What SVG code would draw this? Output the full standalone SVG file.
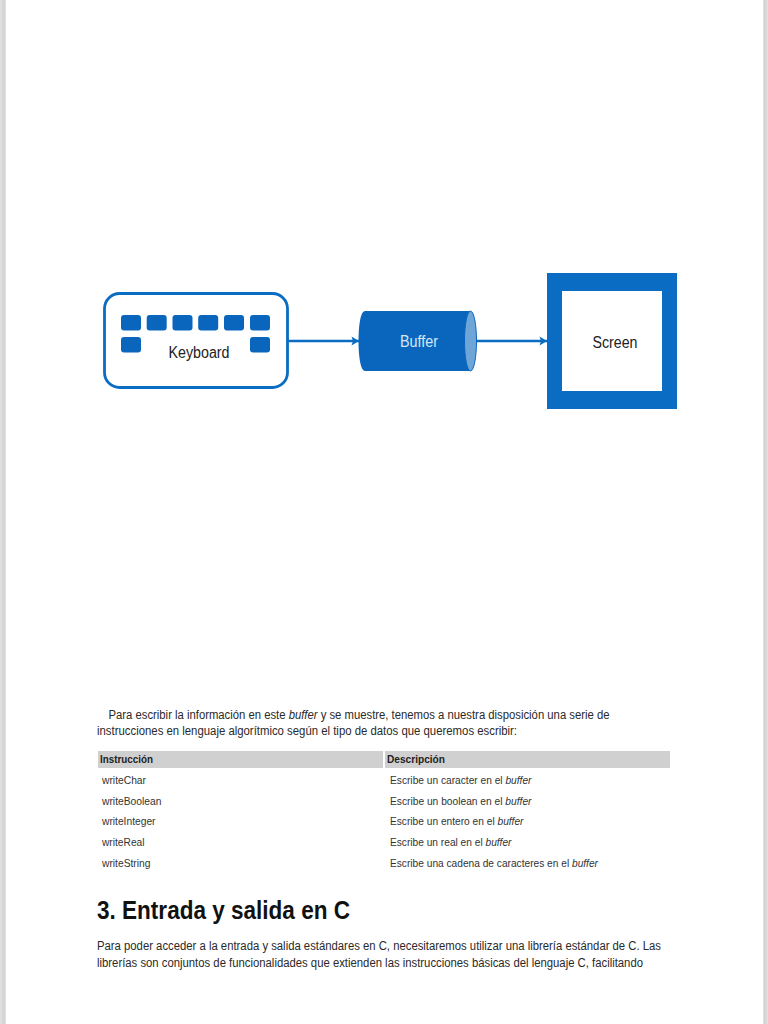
<svg xmlns="http://www.w3.org/2000/svg" width="768" height="1024" viewBox="0 0 768 1024">
<defs>
<marker id="arrow" markerUnits="userSpaceOnUse" markerWidth="12" markerHeight="12" refX="10" refY="6" orient="auto"><path d="M2.500 1.500 L10 6 L2.500 10.500 L4 6 Z" fill="#0a6cc2"/></marker>
<linearGradient id="edgeL" x1="0" x2="1" y1="0" y2="0"><stop offset="0" stop-color="#e2e2e2"/><stop offset="0.7" stop-color="#d2d2d2"/><stop offset="1" stop-color="#e6e6e6"/></linearGradient>
<linearGradient id="edgeR" x1="1" x2="0" y1="0" y2="0"><stop offset="0" stop-color="#e2e2e2"/><stop offset="0.7" stop-color="#d2d2d2"/><stop offset="1" stop-color="#e6e6e6"/></linearGradient>
</defs>
<style>
text{font-family:"Liberation Sans",Arial,sans-serif;fill:#222}
.body{font-size:12px;fill:#2a2a2a}
.cell{font-size:11px;fill:#333}
.hd{font-size:11.5px;font-weight:bold;fill:#222}
.lab{font-size:16px}
.key{fill:#0a66bd}
.conn{stroke:#0a6cc2;stroke-width:2.600;fill:none;marker-end:url(#arrow)}
</style>
<rect width="768" height="1024" fill="#fff"/>
<rect x="0" y="0" width="6" height="1024" fill="url(#edgeL)"/>
<rect x="763" y="0" width="5" height="1024" fill="url(#edgeR)"/>
<g id="connectors">
<path class="conn" d="M288 341 H359"/>
<path class="conn" d="M476 341 H547"/>
</g>
<g id="keyboard">
<rect x="104.500" y="293.500" width="183" height="94" rx="15" fill="#fff" stroke="#0a6cc2" stroke-width="2.800"/>
<rect class="key" x="121" y="315" width="20" height="15.500" rx="3"/>
<rect class="key" x="146.700" y="315" width="20" height="15.500" rx="3"/>
<rect class="key" x="172.500" y="315" width="20" height="15.500" rx="3"/>
<rect class="key" x="198.200" y="315" width="20" height="15.500" rx="3"/>
<rect class="key" x="224" y="315" width="20" height="15.500" rx="3"/>
<rect class="key" x="250" y="315" width="20" height="15.500" rx="3"/>
<rect class="key" x="121" y="337" width="20" height="15.500" rx="3"/>
<rect class="key" x="250" y="337" width="20" height="15.500" rx="3"/>
<text class="lab" x="168.500" y="358" textLength="61" lengthAdjust="spacingAndGlyphs">Keyboard</text>
</g>
<g id="buffer">
<path d="M365 311 H470 V371 H365 C360.500 371 358.500 356 358.500 341 C358.500 326 360.500 311 365 311 Z" fill="#0a66bd"/>
<ellipse cx="470.500" cy="341" rx="6" ry="30" fill="#6ea6d8" stroke="#0a66bd" stroke-width="1"/>
<text class="lab" x="400" y="347" textLength="38" lengthAdjust="spacingAndGlyphs" style="fill:#d6e6f5">Buffer</text>
</g>
<g id="screen">
<rect x="547" y="273" width="130" height="136" fill="#0a6cc2"/>
<rect x="562" y="291" width="100" height="100" fill="#fff"/>
<text class="lab" x="592.500" y="348" textLength="45" lengthAdjust="spacingAndGlyphs">Screen</text>
</g>
<g id="intro">
<text class="body" x="108.500" y="719" textLength="501" lengthAdjust="spacingAndGlyphs">Para escribir la información en este <tspan font-style="italic">buffer</tspan> y se muestre, tenemos a nuestra disposición una serie de</text>
<text class="body" x="97" y="735" textLength="420" lengthAdjust="spacingAndGlyphs">instrucciones en lenguaje algorítmico según el tipo de datos que queremos escribir:</text>
</g>
<g id="table">
<rect x="98" y="751" width="285" height="17" fill="#d0d0d0"/>
<rect x="385" y="751" width="285" height="17" fill="#d0d0d0"/>
<text class="hd" x="100" y="763" textLength="53" lengthAdjust="spacingAndGlyphs">Instrucción</text>
<text class="hd" x="387" y="763" textLength="58" lengthAdjust="spacingAndGlyphs">Descripción</text>
<text class="cell" x="102" y="784" textLength="44" lengthAdjust="spacingAndGlyphs">writeChar</text>
<text class="cell" x="102" y="805" textLength="59.500" lengthAdjust="spacingAndGlyphs">writeBoolean</text>
<text class="cell" x="102" y="825" textLength="53.500" lengthAdjust="spacingAndGlyphs">writeInteger</text>
<text class="cell" x="102" y="846" textLength="42.500" lengthAdjust="spacingAndGlyphs">writeReal</text>
<text class="cell" x="102" y="867" textLength="48.500" lengthAdjust="spacingAndGlyphs">writeString</text>
<text class="cell" x="390" y="784" textLength="141.500" lengthAdjust="spacingAndGlyphs">Escribe un caracter en el <tspan font-style="italic">buffer</tspan></text>
<text class="cell" x="390" y="805" textLength="141.500" lengthAdjust="spacingAndGlyphs">Escribe un boolean en el <tspan font-style="italic">buffer</tspan></text>
<text class="cell" x="390" y="825" textLength="133.500" lengthAdjust="spacingAndGlyphs">Escribe un entero en el <tspan font-style="italic">buffer</tspan></text>
<text class="cell" x="390" y="846" textLength="121.500" lengthAdjust="spacingAndGlyphs">Escribe un real en el <tspan font-style="italic">buffer</tspan></text>
<text class="cell" x="390" y="867" textLength="208" lengthAdjust="spacingAndGlyphs">Escribe una cadena de caracteres en el <tspan font-style="italic">buffer</tspan></text>
</g>
<g id="section">
<text x="97" y="919" font-size="25" font-weight="bold" textLength="253" lengthAdjust="spacingAndGlyphs" style="fill:#111">3. Entrada y salida en C</text>
<text class="body" x="97" y="950" textLength="564" lengthAdjust="spacingAndGlyphs">Para poder acceder a la entrada y salida estándares en C, necesitaremos utilizar una librería estándar de C. Las</text>
<text class="body" x="97" y="967" textLength="546" lengthAdjust="spacingAndGlyphs">librerías son conjuntos de funcionalidades que extienden las instrucciones básicas del lenguaje C, facilitando</text>
</g>
</svg>
